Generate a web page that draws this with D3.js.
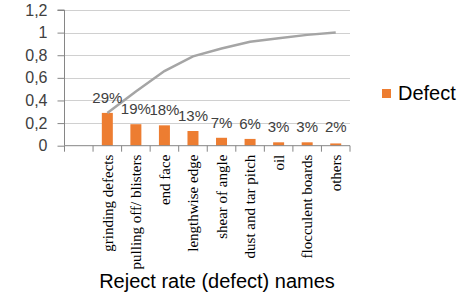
<!DOCTYPE html>
<html><head><meta charset="utf-8">
<script src="https://cdn.jsdelivr.net/npm/d3@7"></script>
<style>body{margin:0;background:#fff}svg{display:block}</style>
</head><body>
<script>
const categories = ["", "grinding defects", "pulling off/ blisters", "end face", "lengthwise edge", "shear of angle", "dust and tar pitch", "oil", "flocculent boards", "others"];
const defect = [null, 0.29, 0.19, 0.18, 0.13, 0.07, 0.06, 0.03, 0.03, 0.02];
const labels = ["", "29%", "19%", "18%", "13%", "7%", "6%", "3%", "3%", "2%"];
const cumulative = [null, 0.29, 0.48, 0.66, 0.79, 0.86, 0.92, 0.95, 0.98, 1.00];
const yTicks = [0, 0.2, 0.4, 0.6, 0.8, 1, 1.2];
const yTickLabels = ["0", "0,2", "0,4", "0,6", "0,8", "1", "1,2"];

const W = 474, H = 303;
const svg = d3.select("body").append("svg").attr("width", W).attr("height", H);
const x = d3.scaleBand().domain(d3.range(categories.length)).range([64.5, 350]).paddingInner(0).paddingOuter(0);
const y = d3.scaleLinear().domain([0, 1.2]).range([145.7, 10]);

// gridlines
svg.append("g").selectAll("line").data(yTicks.slice(1)).join("line")
  .attr("x1", 64.5).attr("x2", 350).attr("y1", d => Math.round(y(d)) + 0.5).attr("y2", d => Math.round(y(d)) + 0.5)
  .attr("stroke", "#d0d0d0").attr("stroke-width", 1);

// bars
const bw = 11;
svg.append("g").selectAll("rect").data(defect.map((v, i) => ({v, i})).filter(d => d.v != null)).join("rect")
  .attr("x", d => x(d.i) + x.bandwidth() / 2 - bw / 2)
  .attr("y", d => y(d.v)).attr("width", bw).attr("height", d => y(0) - y(d.v))
  .attr("fill", "#ed7d31");

// cumulative line
const line = d3.line().defined(d => d.v != null).x(d => x(d.i) + x.bandwidth() / 2).y(d => y(d.v));
svg.append("path").datum(cumulative.map((v, i) => ({v, i})))
  .attr("d", line).attr("fill", "none").attr("stroke", "#a5a5a5").attr("stroke-width", 2.5);

// data labels
svg.append("g").selectAll("text").data(defect.map((v, i) => ({v, i})).filter(d => d.v != null)).join("text")
  .attr("x", d => x(d.i) + x.bandwidth() / 2)
  .attr("y", d => Math.min(y(d.v), y(0.035)) - 10)
  .attr("text-anchor", "middle").attr("font-family", "Liberation Sans, Arial, sans-serif")
  .attr("font-size", 15).attr("fill", "#404040")
  .text(d => labels[d.i]);

// y axis
const yAxis = d3.axisLeft(y).tickValues(yTicks).tickFormat((d, i) => yTickLabels[i]).tickSize(7).tickPadding(10);
const gy = svg.append("g").attr("transform", "translate(64.5,0)").call(yAxis);
gy.select(".domain").attr("stroke", "#868686").attr("d", `M-7,${y(1.2)}H0V${y(0)}`);
gy.selectAll(".tick line").attr("stroke", "#868686");
gy.selectAll(".tick text").attr("font-family", "Liberation Sans, Arial, sans-serif").attr("font-size", 16).attr("fill", "#404040");

// x axis
const xAxis = d3.axisBottom(x).tickSize(0).tickFormat(i => categories[i]);
const gx = svg.append("g").attr("transform", `translate(0,${y(0)})`).call(xAxis);
gx.select(".domain").attr("stroke", "#868686").attr("d", `M64.5,0H350`);
gx.selectAll(".tick text")
  .attr("font-family", "Liberation Serif, Times New Roman, serif").attr("font-size", 15).attr("fill", "#000")
  .attr("text-anchor", "end").attr("transform", "rotate(-90)")
  .attr("x", -9).attr("y", 0).attr("dy", "0.35em");
// category boundary ticks
svg.append("g").selectAll("line").data(d3.range(categories.length + 1)).join("line")
  .attr("x1", i => (i < categories.length ? x(i) : 350)).attr("x2", i => (i < categories.length ? x(i) : 350))
  .attr("y1", y(0)).attr("y2", y(0) + 6).attr("stroke", "#868686");

// axis title
svg.append("text").attr("x", 217).attr("y", 288).attr("text-anchor", "middle")
  .attr("font-family", "Liberation Sans, Arial, sans-serif").attr("font-size", 20).attr("fill", "#000")
  .text("Reject rate (defect) names");

// legend
svg.append("rect").attr("x", 382).attr("y", 89).attr("width", 9).attr("height", 9).attr("fill", "#ed7d31");
svg.append("text").attr("x", 398).attr("y", 100).attr("font-family", "Liberation Sans, Arial, sans-serif")
  .attr("font-size", 20).attr("fill", "#000").text("Defect");
</script>
</body></html>
